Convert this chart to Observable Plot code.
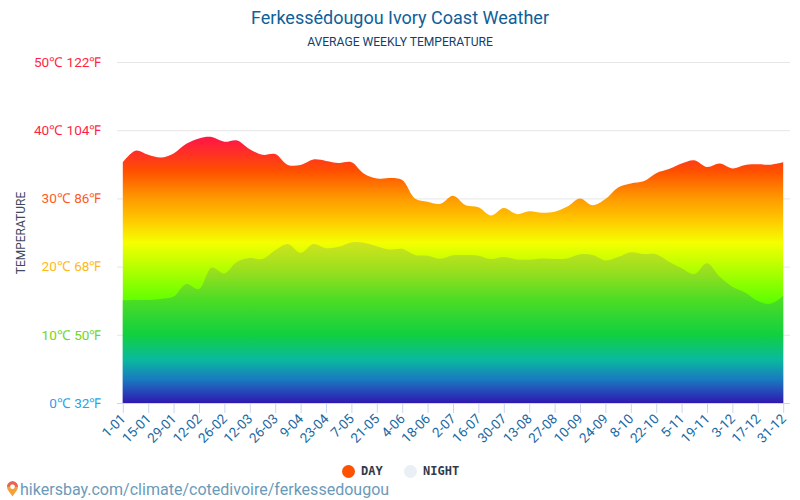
<!DOCTYPE html>
<html>
<head>
<meta charset="utf-8">
<script src="https://cdn.jsdelivr.net/npm/d3@7"></script>
<script src="https://cdn.jsdelivr.net/npm/@observablehq/plot@0.6"></script>
<style>
html,body{margin:0;padding:0;background:#fff;width:800px;height:500px;overflow:hidden;font-family:Roboto,sans-serif}
#head{height:50px;text-align:center;position:relative}
#title{position:absolute;left:0;right:0;top:7px;font-size:18px;line-height:22px;color:#0f6098}
#sub{position:absolute;left:0;right:0;top:34px;font-size:12.1px;line-height:16px;color:#0e3f6e}
#chart{height:400px}
#chart svg{display:block}
#legend{position:absolute;top:463px;left:0;width:800px;height:16px;font:bold 12px "DejaVu Sans Mono",monospace;color:#333a48}
#legend span{position:absolute;top:0;line-height:17px}
#legend i{position:absolute;top:2px;width:13px;height:13px;border-radius:50%}
#foot{position:absolute;left:6px;top:480px;height:20px;font-size:16.05px;line-height:20px;color:#6b9ab9;white-space:nowrap}
#foot svg{position:absolute;left:0;top:1px}
#foot span{position:absolute;left:14px;top:0}
</style>
</head>
<body>
<div id="head"><div id="title">Ferkessédougou Ivory Coast Weather</div><div id="sub">AVERAGE WEEKLY TEMPERATURE</div></div>
<div id="chart"></div>
<div id="legend"><i style="left:342px;background:#ff5100"></i><span style="left:361px">DAY</span><i style="left:404px;background:#e9eff5"></i><span style="left:423px">NIGHT</span></div>
<div id="foot"><svg width="13" height="16" viewBox="0 0 13 16"><path d="M6.5 15.5C4 11.5 1 9 1 5.8a5.5 5.5 0 0 1 11 0C12 9 9 11.5 6.5 15.5Z" fill="#f2a13b"/><path d="M1 5.8a5.5 5.5 0 0 1 11 0L9 5.8a2.5 2.5 0 0 0-5 0Z" fill="#e8615a"/><circle cx="6.5" cy="5.8" r="2.3" fill="#fff"/></svg><span>hikersbay.com/climate/cotedivoire/ferkessedougou</span></div>
<script>
const weeks = ["1-01","8-01","15-01","22-01","29-01","5-02","12-02","19-02","26-02","5-03","12-03","19-03","26-03","2-04","9-04","16-04","23-04","30-04","7-05","14-05","21-05","28-05","4-06","11-06","18-06","25-06","2-07","9-07","16-07","23-07","30-07","6-08","13-08","20-08","27-08","3-09","10-09","17-09","24-09","1-10","8-10","15-10","22-10","29-10","5-11","12-11","19-11","26-11","3-12","10-12","17-12","24-12","31-12"];
const dayTemps = [35.3,37.0,36.4,36.0,36.6,38.0,38.8,39.0,38.3,38.5,37.2,36.4,36.5,34.9,34.9,35.7,35.5,35.2,35.3,33.6,32.9,33.0,32.7,30.0,29.5,29.2,30.4,29.0,28.7,27.5,28.6,27.7,28.1,27.9,28.05,28.8,30.0,29.0,29.9,31.6,32.2,32.5,33.7,34.3,35.1,35.6,34.6,35.1,34.4,34.9,35.0,34.95,35.3];
const nightTemps = [15.05,15.1,15.1,15.25,15.6,17.45,16.7,19.85,19.0,20.7,21.25,21.1,22.4,23.3,22.0,23.3,22.7,22.9,23.55,23.5,23.0,22.5,22.6,21.7,21.6,21.15,21.65,21.7,21.6,21.1,21.4,21.05,21.0,21.2,21.1,21.2,21.8,21.7,20.9,21.4,22.1,21.85,21.8,20.7,19.75,18.9,20.5,18.5,17.05,16.2,14.95,14.55,15.7];
const xTicks = weeks.filter((d, i) => i % 2 === 0);
const yTicks = [0,10,20,30,40,50];
const yLabels = ["0℃ 32℉","10℃ 50℉","20℃ 68℉","30℃ 86℉","40℃ 104℉","50℃ 122℉"];
const yColors = ["#2f9fe6","#72d61a","#ffb81a","#ff5a1f","#ff1f45","#ff1f45"];
const gradTemps   = [0,3.4,6.3,10,15,19.5,23.5,26.8,30,34,38.5];
const dayStops   = ["#3018b0","#1a78c0","#0ab8a0","#10d040","#60ff00","#b0ff00","#f5ff00","#ffc800","#ff9a00","#ff5000","#ff1a40"];
const nightStops = ["#3018b0","#1a78c0","#0ab8a0","#10d040","#4bdc25","#9cdf1e","#cfe41c","#cfe41c","#cfe41c","#cfe41c","#cfe41c"];
const dayRows = weeks.map((w, i) => ({week: w, temp: dayTemps[i]}));
const nightRows = weeks.map((w, i) => ({week: w, temp: nightTemps[i]}));

function gradients(index, scales) {
  const defs = d3.create("svg:defs");
  const add = (id, colors) => {
    const g = defs.append("linearGradient").attr("id", id).attr("gradientUnits", "userSpaceOnUse")
      .attr("x1", 0).attr("x2", 0).attr("y1", scales.y(0)).attr("y2", scales.y(38.5));
    gradTemps.forEach((t, i) => g.append("stop").attr("offset", t / 38.5).attr("stop-color", colors[i]));
  };
  add("dayGrad", dayStops);
  add("nightGrad", nightStops);
  return defs.node();
}

const font = "Roboto, sans-serif";
const plot = Plot.plot({
  width: 800, height: 400,
  marginLeft: 117, marginRight: 10, marginTop: 12, marginBottom: 47,
  style: {background: "#fff", fontFamily: font},
  x: {type: "point", domain: weeks, range: [122.8, 783.2], padding: 0},
  y: {domain: [0, 50]},
  marks: [
    gradients,
    Plot.ruleY(yTicks, {y: d => d, stroke: "#e6e6e6"}),
    Plot.areaY(dayRows, {x: "week", y: "temp", fill: "url(#dayGrad)", curve: "catmull-rom"}),
    Plot.areaY(nightRows, {x: "week", y: "temp", fill: "url(#nightGrad)", curve: "catmull-rom"}),
    Plot.ruleY([0], {stroke: "#ccd6eb"}),
    Plot.axisX(xTicks, {anchor: "bottom", label: null, tickSize: 10, tickPadding: 3, stroke: "#ccd6eb", strokeOpacity: 1, fill: "#1c6aa3", fontSize: 13.5, tickRotate: -45}),
    Plot.axisY(yTicks, {anchor: "left", label: null, tickSize: 0, tickPadding: 16, fontSize: 13.6, tickFormat: d => yLabels[yTicks.indexOf(d)], fill: d => yColors[yTicks.indexOf(d)]}),
    Plot.text(["TEMPERATURE"], {frameAnchor: "left", textAnchor: "middle", dx: -96, rotate: -90, fontSize: 12, fill: "#3e4a5e"})
  ]
});
document.getElementById("chart").appendChild(plot);
</script>
</body>
</html>
